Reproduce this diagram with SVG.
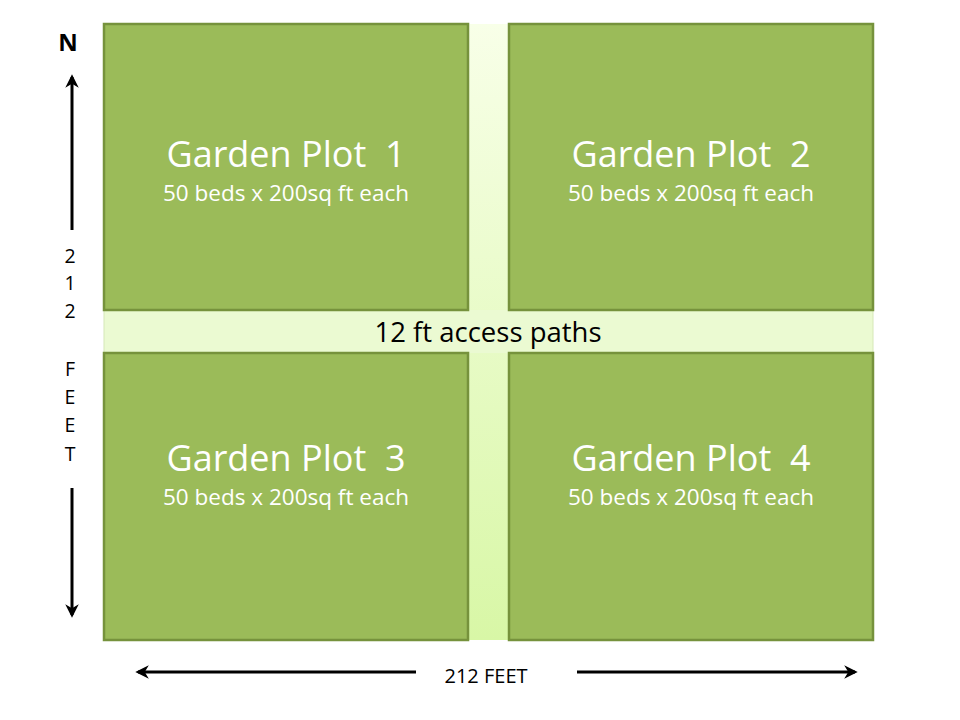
<svg xmlns="http://www.w3.org/2000/svg" width="960" height="720" viewBox="0 0 960 720">
<defs>
<linearGradient id="vpath" x1="0" y1="0" x2="0" y2="1">
<stop offset="0" stop-color="#f8ffe8"/>
<stop offset="1" stop-color="#d8f7a6"/>
</linearGradient>
<marker id="ah" viewBox="0 0 10 10" refX="8" refY="5" markerWidth="4.5" markerHeight="4.5" orient="auto-start-reverse" markerUnits="strokeWidth">
<path d="M0,0 L10,5 L0,10 L3,5 Z" fill="#000"/>
</marker>
<style>
.plot{fill:#9bbb59;stroke:#76923c;stroke-width:2.5}
.t1{font-family:"Open Sans","Liberation Sans",sans-serif;font-size:36px;fill:#fff;text-anchor:middle}
.t2{font-family:"Open Sans","Liberation Sans",sans-serif;font-size:22.5px;fill:#fff;text-anchor:middle}
.lbl{font-family:"Open Sans","Liberation Sans",sans-serif;fill:#000;text-anchor:middle}
.arr{stroke:#000;stroke-width:3;fill:none;marker-end:url(#ah)}
</style>
</defs>
<rect width="960" height="720" fill="#fff"/>
<g id="paths">
<rect x="104" y="310" width="769" height="43" fill="#ebfad2" stroke="#d6e8b8" stroke-width="1"/>
<rect x="468" y="24" width="41" height="616" fill="url(#vpath)"/>
<rect x="468" y="310" width="41" height="43" fill="#ebfad2"/>
<text class="lbl" x="488" y="342" font-size="27.5">12 ft access paths</text>
</g>
<g id="plot1">
<rect class="plot" x="104" y="24" width="364" height="286"/>
<text class="t1" x="286" y="167" xml:space="preserve">Garden Plot  1</text>
<text class="t2" x="286" y="201">50 beds x 200sq ft each</text>
</g>
<g id="plot2">
<rect class="plot" x="509" y="24" width="364" height="286"/>
<text class="t1" x="691" y="167" xml:space="preserve">Garden Plot  2</text>
<text class="t2" x="691" y="201">50 beds x 200sq ft each</text>
</g>
<g id="plot3">
<rect class="plot" x="104" y="353" width="364" height="287"/>
<text class="t1" x="286" y="471" xml:space="preserve">Garden Plot  3</text>
<text class="t2" x="286" y="505">50 beds x 200sq ft each</text>
</g>
<g id="plot4">
<rect class="plot" x="509" y="353" width="364" height="287"/>
<text class="t1" x="691" y="471" xml:space="preserve">Garden Plot  4</text>
<text class="t2" x="691" y="505">50 beds x 200sq ft each</text>
</g>
<g id="connectors">
<line class="arr" x1="72" y1="230" x2="72" y2="77"/>
<line class="arr" x1="72" y1="488" x2="72" y2="615"/>
<line class="arr" x1="416" y1="672" x2="138" y2="672"/>
<line class="arr" x1="577" y1="672" x2="855" y2="672"/>
</g>
<g id="labels">
<text class="lbl" x="68" y="51" font-size="24" font-weight="bold" font-family="Liberation Sans, sans-serif">N</text>
<g class="lbl" font-size="19.5">
<text x="70" y="263">2</text>
<text x="70" y="290">1</text>
<text x="70" y="318">2</text>
<text x="70" y="376">F</text>
<text x="70" y="404">E</text>
<text x="70" y="432">E</text>
<text x="70" y="461">T</text>
</g>
<text class="lbl" x="486" y="683" font-size="20">212 FEET</text>
</g>
</svg>
